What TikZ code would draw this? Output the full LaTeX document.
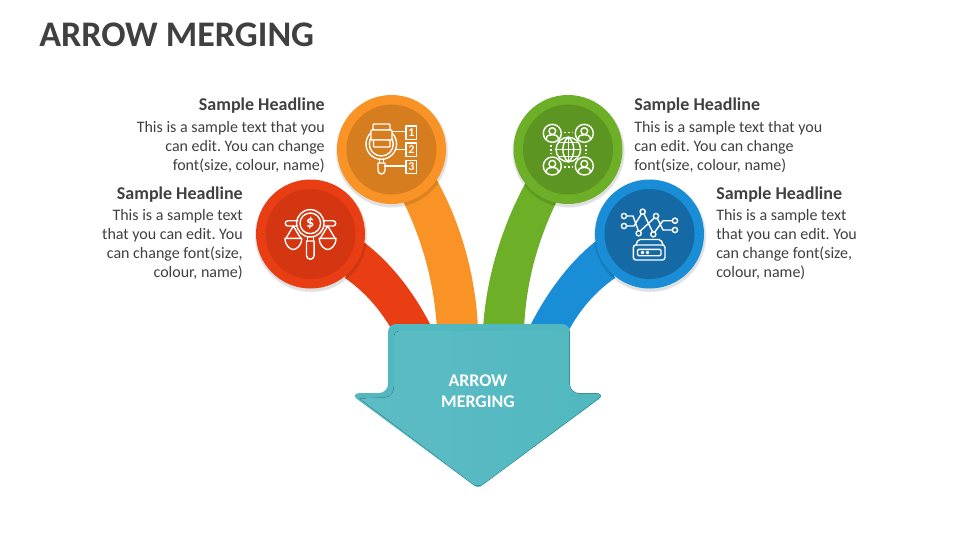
\documentclass[tikz,border=0pt]{standalone}
\usepackage{fontspec}
\setmainfont{Carlito}
\usetikzlibrary{calc}
\AtBeginDocument{\frenchspacing}
\definecolor{txt}{HTML}{404040}
\definecolor{cred}{HTML}{E93E14}\definecolor{credi}{HTML}{D33611}
\definecolor{cora}{HTML}{F99325}\definecolor{corai}{HTML}{D57D1F}
\definecolor{cgre}{HTML}{6DAF27}\definecolor{cgrei}{HTML}{5D9522}
\definecolor{cblu}{HTML}{198DD6}\definecolor{cblui}{HTML}{1569A5}
\definecolor{tealA}{HTML}{51B8C0}\definecolor{tealL}{HTML}{5DBCC4}
\tikzset{
  x=0.75pt,y=-0.75pt,
  head/.style={font=\fontsize{13.5pt}{15pt}\selectfont\bfseries,text=txt,inner sep=0pt},
  body/.style={font=\fontsize{12pt}{14.25pt}\selectfont,text=txt,inner sep=0pt},
  ico/.style={draw=white,line width=1.05pt,line join=round,line cap=round,fill=none},
  dots/.style={draw=white,line width=1.2pt,dash pattern=on 1.5pt off 1.5pt},
  digit/.style={text=white,inner sep=0pt,font=\fontsize{9pt}{9pt}\selectfont\bfseries},
}
\newcommand{\disc}[5]{% name, x, y, outer, inner
  \foreach \rr/\op in {56.5/.03,56/.04,55.5/.05}{\fill[black,opacity=\op] (#2+0.5,#3+2) circle[radius=\rr*0.75pt];}
  \node[circle,fill=#4,minimum size=81.75pt,inner sep=0pt] (#1) at (#2,#3) {};
  \node[circle,fill=#5,minimum size=67.5pt,inner sep=0pt] (#1i) at (#2,#3) {};
}
\newcommand{\person}[2]{%
  \draw[ico] (#1,#2) circle[radius=9*0.75pt];
  \draw[ico] (#1,#2-2.2) circle[radius=3.4*0.75pt];
  \draw[ico] (#1-6,#2+6) .. controls (#1-6,#2+2) and (#1-3,#2+1.4) .. (#1,#2+1.4) .. controls (#1+3,#2+1.4) and (#1+6,#2+2) .. (#1+6,#2+6);
}
\newcommand{\dotnode}[2]{\draw[ico] (#1,#2) circle[radius=2.6*0.75pt];}
\begin{document}
\begin{tikzpicture}
\useasboundingbox[fill=white] (0,0) rectangle (960,540);
\node[anchor=west,inner sep=0pt,text=txt,font=\fontsize{27pt}{30pt}\selectfont\bfseries] (title) at (39,35) {ARROW MERGING};
% bands
\fill[cred] (345,278) .. controls (362,290) and (378,306) .. (392,330) -- (433,330) .. controls (416,295) and (390,260) .. (358,238) -- cycle;
\fill[cora] (400,195) .. controls (418,230) and (434,275) .. (437,330) -- (478,330) .. controls (476,275) and (460,220) .. (434,175) -- cycle;
\fill[cgre] (530,175) .. controls (504,220) and (486,275) .. (483,330) -- (524,330) .. controls (526,275) and (542,230) .. (560,195) -- cycle;
\fill[cblu] (600,238) .. controls (570,260) and (545,295) .. (528,330) -- (569,330) .. controls (582,306) and (598,290) .. (615,278) -- cycle;
% discs
\disc{a}{310.5}{234}{cred}{credi}
\disc{b}{391.5}{149.5}{cora}{corai}
\disc{c}{568}{149.5}{cgre}{cgrei}
\disc{d}{649.5}{234}{cblu}{cblui}
% icon: orange
\draw[ico] (381.3,144) circle[radius=15.3*0.75pt];
\draw[ico] (381.3,144) circle[radius=12*0.75pt];
\draw[ico,fill=corai,rounded corners=0.6pt] (373,124) rectangle (390,130);
\draw[ico,fill=corai,rounded corners=0.6pt] (371,130) rectangle (392,140);
\draw[ico,fill=corai,rounded corners=0.6pt] (373.5,140) rectangle (390,147);
\draw[ico] (379.3,159) -- (379.3,163) (383.5,159) -- (383.5,163);
\draw[ico] (378,163) -- (385,163) -- (385,170.5) arc[start angle=0,end angle=180,radius=3.5] -- cycle;
\draw[ico] (393,131.7) -- (406,131.7) (396.5,149.3) -- (406,149.3) (385,166) -- (406,166);
\draw[ico] (406,126) rectangle (416.7,139.3);
\draw[ico] (406,143) rectangle (416.7,156.5);
\draw[ico] (406,160.5) rectangle (416.7,173.3);
\node[digit] (n1) at (411.3,132.8) {1};
\node[digit] (n2) at (411.3,150) {2};
\node[digit] (n3) at (411.3,167) {3};
% icon: red
\draw[ico] (298,220.7) -- (288,220.7) .. controls (284.4,220.7) and (284.4,226) .. (288,226) -- (297.5,226);
\draw[ico] (323,220.7) -- (333,220.7) .. controls (336.6,220.7) and (336.6,226) .. (333,226) -- (323.5,226);
\draw[ico] (310.3,223.3) circle[radius=13.7*0.75pt];
\draw[ico] (310.3,223.3) circle[radius=10.3*0.75pt];
\node[text=white,inner sep=0pt,font=\fontsize{12pt}{12pt}\selectfont\bfseries] (dollar) at (310.3,223.3) {\$};
\draw[ico] (307.5,237) -- (307.5,241) (313.2,237) -- (313.2,241);
\draw[ico] (306.5,241) -- (314.1,241) -- (314.1,255.5) arc[start angle=0,end angle=180,radius=3.8] -- cycle;
\draw[ico] (286,238.3) -- (293.3,226) -- (300.7,238.3);
\draw[ico] (301.7,238.3) .. controls (301.7,246) and (296,249.5) .. (293.3,249.5) .. controls (290.5,249.5) and (285,246) .. (285,238.3) -- cycle;
\draw[ico] (320.3,238.3) -- (327.7,226) -- (335,238.3);
\draw[ico] (336,238.3) .. controls (336,246) and (330.5,249.5) .. (327.7,249.5) .. controls (325,249.5) and (319.3,246) .. (319.3,238.3) -- cycle;
% icon: green
\person{552.3}{133.3}\person{584.3}{133.3}\person{552.3}{166}\person{584.3}{166}
\draw[dots] (564,132.3) -- (573,132.3) (564,166.7) -- (573,166.7) (551,145) -- (551,154) (585.7,145) -- (585.7,154);
\draw[ico,fill=cgrei] (568.3,149.5) circle[radius=12.3*0.75pt];
\draw[ico] (568.3,137.2) .. controls (561,143) and (561,156) .. (568.3,161.8) .. controls (575.6,156) and (575.6,143) .. (568.3,137.2);
\draw[ico] (568.3,137.2) -- (568.3,161.8) (556,149.5) -- (580.6,149.5);
\draw[ico] (558.5,142.5) -- (578,142.5) (558.5,156.5) -- (578,156.5);
% icon: blue
\draw[ico] (626.6,216) -- (633,216) -- (638.3,230.6) (626.6,226) -- (634,226) -- (641.3,214);
\draw[ico] (644,214) -- (652.5,231.8) (640.3,231) -- (654.3,218) (657.3,218.3) -- (663,230) -- (672.4,230) (654.8,232) -- (663,220.7) -- (672.4,220.7);
\dotnode{624}{216}\dotnode{624}{226}\dotnode{675}{220.7}\dotnode{675}{230}
\dotnode{642.7}{211.7}\dotnode{656}{216}\dotnode{638.7}{233.3}\dotnode{653.3}{234.3}
\draw[ico,rounded corners=1.5pt] (636,245) -- (638,239.5) -- (661,239.5) -- (663,245);
\draw[ico,rounded corners=2pt] (633.3,245) rectangle (665,260);
\draw[ico,rounded corners=1pt] (637.5,249.3) rectangle (661,255.7);
\draw[ico] (642.5,252.5) circle[radius=1.2*0.75pt] (647.5,252.5) circle[radius=1.2*0.75pt];
% arrow
\fill[tealA]
 (396,324) -- (562,324) arc[start angle=-90,end angle=0,radius=8] -- (570,384)
 arc[start angle=180,end angle=90,radius=9] -- (596,393) .. controls (601,393) and (603,396) .. (599,399)
 -- (484,484) .. controls (480,488) and (476,488) .. (472,484)
 -- (357,399) .. controls (353,396) and (355,393) .. (360,393) -- (379,393)
 arc[start angle=90,end angle=0,radius=9] -- (388,332) arc[start angle=180,end angle=270,radius=8] -- cycle;
\fill[left color=tealL,right color=tealA]
 (400,331) -- (569.5,331) -- (569.5,384) arc[start angle=180,end angle=90,radius=9.5] -- (596,393.5) .. controls (600,393.5) and (602,396) .. (598.5,398.5)
 -- (484,483.5) .. controls (480,486.5) and (476,486.5) .. (472,483.5)
 -- (359.5,398.5) -- (385,397.5) .. controls (391,397) and (394,392) .. (394,386) -- (394,337) .. controls (394,333) and (396,331) .. (400,331) -- cycle;
\node[text=white,align=center,inner sep=0pt,font=\fontsize{13.4pt}{15.5pt}\selectfont\bfseries] (m) at (478,391.5) {ARROW\\MERGING};
% texts
\node[head,anchor=east] (h1) at (325,106) {Sample Headline};
\node[body,anchor=north east,align=right] (t1) at (325,121.5) {This is a sample text that you\\can edit. You can change\\font(size, colour, name)};
\node[head,anchor=east] (h2) at (243,195) {Sample Headline};
\node[body,anchor=north east,align=right] (t2) at (243,209.5) {This is a sample text\\that you can edit. You\\can change font(size,\\colour, name)};
\node[head,anchor=west] (h3) at (634,106) {Sample Headline};
\node[body,anchor=north west,align=left] (t3) at (634,121.5) {This is a sample text that you\\can edit. You can change\\font(size, colour, name)};
\node[head,anchor=west] (h4) at (716,195) {Sample Headline};
\node[body,anchor=north west,align=left] (t4) at (716,209.5) {This is a sample text\\that you can edit. You\\can change font(size,\\colour, name)};
\end{tikzpicture}
\end{document}
